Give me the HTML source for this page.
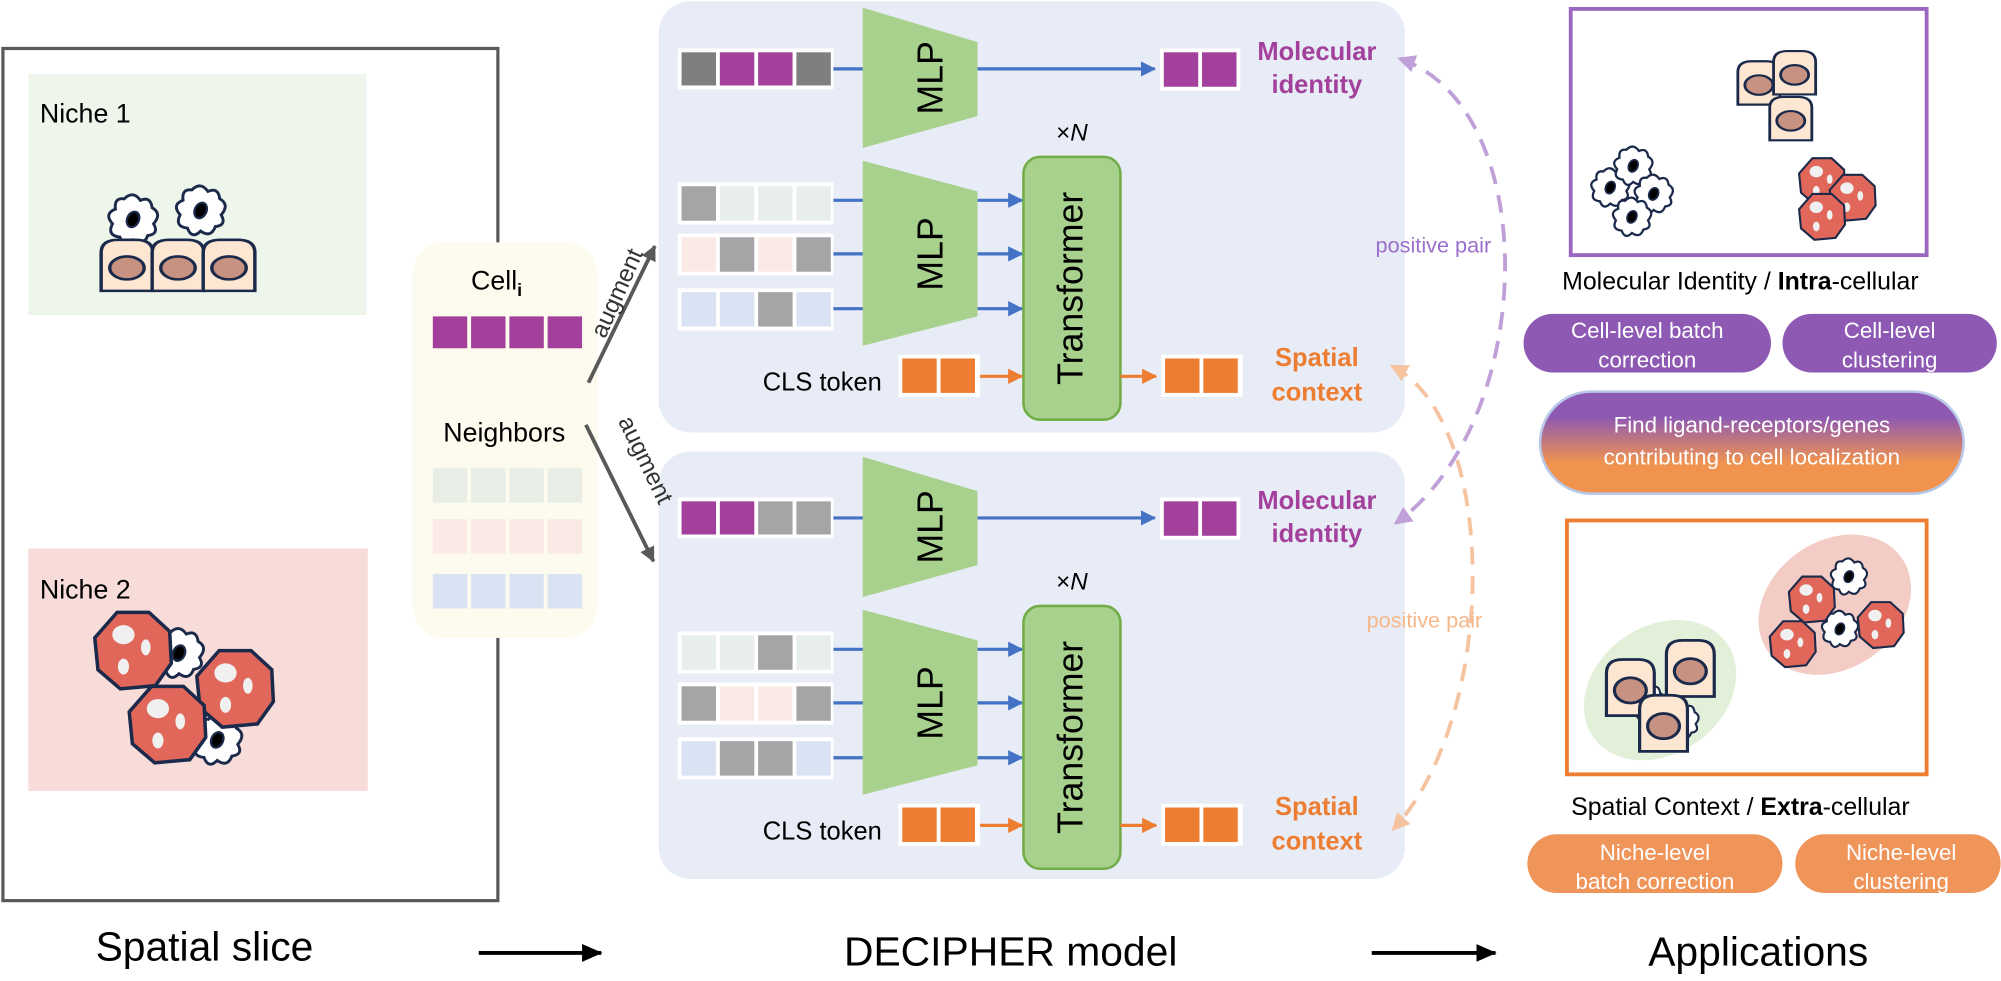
<!DOCTYPE html>
<html><head><meta charset="utf-8">
<style>
html,body{margin:0;padding:0;background:#fff;}
svg{display:block;font-family:"Liberation Sans",Arial,sans-serif;}
</style></head>
<body>
<svg width="2001" height="981" viewBox="0 0 1568 769" xmlns="http://www.w3.org/2000/svg">
<defs>
 <g id="epi">
  <path d="M0,40 L0,10 Q0,0 10,0 L20,0 Q30,0 30,10 L30,40 Z" fill="#fde6d2" stroke="#1b2a4a" stroke-width="2"/>
  <ellipse cx="15" cy="22" rx="10" ry="9" fill="#c79282" stroke="#1b2a4a" stroke-width="2"/>
 </g>
 <g id="imm">
  <path d="M-6,-14 Q0,-20 5,-13 Q12,-16 13,-8 Q20,-4 14,3 Q18,10 10,11 Q7,19 0,14 Q-6,20 -9,12 Q-18,11 -14,3 Q-20,-4 -12,-7 Q-13,-15 -6,-14 Z" fill="#fff" stroke="#1b2a4a" stroke-width="2"/>
  <ellipse cx="0" cy="0" rx="4" ry="5.5" fill="#000" stroke="#1b2a4a" stroke-width="1.5" transform="rotate(25)"/>
 </g>
 <g id="red">
  <polygon points="-10,-24 10,-24 23,-12 24,8 14,22 -8,24 -22,12 -24,-8" fill="#e0675a" stroke="#1b2a4a" stroke-width="2.2"/>
  <ellipse cx="-6" cy="-10" rx="7" ry="6" fill="#f0f0f0"/>
  <ellipse cx="8" cy="-2" rx="3" ry="5" fill="#f0f0f0"/>
  <ellipse cx="-6" cy="10" rx="3.5" ry="5" fill="#f0f0f0"/>
 </g>
 <marker id="abB" markerWidth="12" markerHeight="12" refX="11" refY="6" orient="auto" markerUnits="userSpaceOnUse"><path d="M0,0 L12,6 L0,12 Z" fill="#4472c4"/></marker>
 <marker id="ao" markerWidth="12" markerHeight="12" refX="11" refY="6" orient="auto" markerUnits="userSpaceOnUse"><path d="M0,0 L12,6 L0,12 Z" fill="#ed7d31"/></marker>
 <marker id="ag" markerWidth="12" markerHeight="12" refX="11" refY="6" orient="auto" markerUnits="userSpaceOnUse"><path d="M0,0 L12,6 L0,12 Z" fill="#595959"/></marker>
 <marker id="ak" markerWidth="16" markerHeight="14" refX="15" refY="7" orient="auto" markerUnits="userSpaceOnUse"><path d="M0,0 L16,7 L0,14 Z" fill="#000"/></marker>
 <marker id="ap" markerWidth="14" markerHeight="14" refX="12" refY="7" orient="auto-start-reverse" markerUnits="userSpaceOnUse"><path d="M0,0 L14,7 L0,14 Z" fill="#c0a0d8"/></marker>
 <marker id="apo" markerWidth="14" markerHeight="14" refX="12" refY="7" orient="auto-start-reverse" markerUnits="userSpaceOnUse"><path d="M0,0 L14,7 L0,14 Z" fill="#f5c3a0"/></marker>
 <linearGradient id="gr" x1="0" y1="0" x2="0" y2="1">
  <stop offset="0.25" stop-color="#8e59b3"/><stop offset="0.7" stop-color="#f0934f"/>
 </linearGradient>
</defs>

<!-- Spatial slice -->
<rect x="2" y="38" width="388" height="668" fill="#fff" stroke="#595959" stroke-width="2.5"/>
<rect x="22" y="58" width="265" height="189" fill="#eef6ec"/>
<text x="31" y="96" font-size="21">Niche 1</text>
<rect x="22" y="430" width="266" height="190" fill="#f7dcda"/>
<text x="31" y="469" font-size="21">Niche 2</text>
<use href="#imm" transform="translate(104,172) scale(1.15)"/>
<use href="#imm" transform="translate(157,165) scale(1.15)"/>
<use href="#epi" transform="translate(79,188) scale(1.35,1)"/>
<use href="#epi" transform="translate(119,188) scale(1.35,1)"/>
<use href="#epi" transform="translate(159,188) scale(1.35,1)"/>
<use href="#imm" transform="translate(140,512) scale(1.15)"/>
<use href="#imm" transform="translate(170,580) scale(1.15)"/>
<use href="#red" transform="translate(104,510) scale(1.25)"/>
<use href="#red" transform="translate(184,540) scale(1.25)"/>
<use href="#red" transform="translate(131,568) scale(1.25)"/>

<!-- Cell / neighbors panel -->
<rect x="323" y="190" width="145" height="310" rx="25" fill="#fdfbee"/>
<text x="389" y="227" font-size="21" text-anchor="middle">Cell<tspan font-size="14" dy="5" font-weight="bold">i</tspan></text>
<g fill="#a3409b">
<rect x="339" y="248" width="27" height="25"/><rect x="369" y="248" width="27" height="25"/><rect x="399" y="248" width="27" height="25"/><rect x="429" y="248" width="27" height="25"/></g>
<text x="395" y="346" font-size="21" text-anchor="middle">Neighbors</text>
<g fill="#e8eee6"><rect x="339" y="367" width="27" height="27"/><rect x="369" y="367" width="27" height="27"/><rect x="399" y="367" width="27" height="27"/><rect x="429" y="367" width="27" height="27"/></g>
<g fill="#fbe9e6"><rect x="339" y="407" width="27" height="27"/><rect x="369" y="407" width="27" height="27"/><rect x="399" y="407" width="27" height="27"/><rect x="429" y="407" width="27" height="27"/></g>
<g fill="#dae3f3"><rect x="339" y="450" width="27" height="27"/><rect x="369" y="450" width="27" height="27"/><rect x="399" y="450" width="27" height="27"/><rect x="429" y="450" width="27" height="27"/></g>

<!-- model panels -->
<rect x="516" y="1" width="585" height="338" rx="25" fill="#e8ecf7"/>
<rect x="516" y="354" width="585" height="335" rx="25" fill="#e8ecf7"/>

<!-- augment arrows -->
<line x1="461" y1="300" x2="513" y2="193" stroke="#595959" stroke-width="3" marker-end="url(#ag)"/>
<text font-size="19" fill="#333" transform="translate(474,266) rotate(-66)">augment</text>
<line x1="459" y1="333" x2="512" y2="440" stroke="#595959" stroke-width="3" marker-end="url(#ag)"/>
<text font-size="19" fill="#333" transform="translate(484,330) rotate(64)">augment</text>

<!-- top panel content -->
<g>
 <rect x="531" y="38" width="122" height="32" fill="#fff"/>
 <rect x="534" y="41" width="27" height="26" fill="#7f7f7f"/><rect x="564" y="41" width="27" height="26" fill="#a3409b"/><rect x="594" y="41" width="27" height="26" fill="#a3409b"/><rect x="624" y="41" width="27" height="26" fill="#7f7f7f"/>
 <line x1="653" y1="54" x2="677" y2="54" stroke="#4472c4" stroke-width="2.5"/>
 <polygon points="676,6 766,33 766,91 676,116" fill="#a9d18e"/>
 <text font-size="28" transform="translate(731,61) rotate(-90)" text-anchor="middle" dominant-baseline="middle">MLP</text>
 <line x1="766" y1="54" x2="905" y2="54" stroke="#4472c4" stroke-width="2.5" marker-end="url(#abB)"/>
 <rect x="909" y="38" width="63" height="33" fill="#fff"/>
 <rect x="912" y="41" width="27" height="27" fill="#a3409b"/><rect x="942" y="41" width="27" height="27" fill="#a3409b"/>
 <text x="1032" y="47" font-size="20" font-weight="bold" fill="#a3409b" text-anchor="middle">Molecular</text>
 <text x="1032" y="73" font-size="20" font-weight="bold" fill="#a3409b" text-anchor="middle">identity</text>
 <text x="840" y="110" font-size="19" text-anchor="middle">×<tspan font-style="italic">N</tspan></text>
 <rect x="531" y="143" width="122" height="33" fill="#fff"/>
 <rect x="534" y="146" width="27" height="27" fill="#a5a5a7"/><rect x="564" y="146" width="27" height="27" fill="#e8eee9"/><rect x="594" y="146" width="27" height="27" fill="#e8eee9"/><rect x="624" y="146" width="27" height="27" fill="#e8eee9"/>
 <rect x="531" y="183" width="122" height="33" fill="#fff"/>
 <rect x="534" y="186" width="27" height="27" fill="#fbe9e6"/><rect x="564" y="186" width="27" height="27" fill="#a5a5a7"/><rect x="594" y="186" width="27" height="27" fill="#fbe9e6"/><rect x="624" y="186" width="27" height="27" fill="#a5a5a7"/>
 <rect x="531" y="226" width="122" height="33" fill="#fff"/>
 <rect x="534" y="229" width="27" height="27" fill="#dae3f3"/><rect x="564" y="229" width="27" height="27" fill="#dae3f3"/><rect x="594" y="229" width="27" height="27" fill="#a5a5a7"/><rect x="624" y="229" width="27" height="27" fill="#dae3f3"/>
 <g stroke="#4472c4" stroke-width="2.5">
  <line x1="653" y1="157" x2="677" y2="157"/><line x1="653" y1="199" x2="677" y2="199"/><line x1="653" y1="242" x2="677" y2="242"/>
  <line x1="766" y1="157" x2="801" y2="157" marker-end="url(#abB)"/><line x1="766" y1="199" x2="801" y2="199" marker-end="url(#abB)"/><line x1="766" y1="242" x2="801" y2="242" marker-end="url(#abB)"/>
 </g>
 <polygon points="676,126 766,150 766,248 676,271" fill="#a9d18e"/>
 <text font-size="28" transform="translate(731,199) rotate(-90)" text-anchor="middle" dominant-baseline="middle">MLP</text>
 <rect x="802" y="123" width="76" height="206" rx="13" fill="#a9d18e" stroke="#70ad47" stroke-width="2"/>
 <text font-size="28" transform="translate(841,226) rotate(-90)" text-anchor="middle" dominant-baseline="middle">Transformer</text>
 <text x="691" y="306" font-size="20" text-anchor="end">CLS token</text>
 <rect x="704" y="278" width="64" height="33" fill="#fff"/>
 <rect x="707" y="281" width="27" height="27" fill="#ed7d31"/><rect x="737" y="281" width="27" height="27" fill="#ed7d31"/>
 <line x1="768" y1="295" x2="801" y2="295" stroke="#ed7d31" stroke-width="2.5" marker-end="url(#ao)"/>
 <line x1="878" y1="295" x2="906" y2="295" stroke="#ed7d31" stroke-width="2.5" marker-end="url(#ao)"/>
 <rect x="910" y="278" width="64" height="33" fill="#fff"/>
 <rect x="913" y="281" width="27" height="27" fill="#ed7d31"/><rect x="943" y="281" width="27" height="27" fill="#ed7d31"/>
 <text x="1032" y="287" font-size="20" font-weight="bold" fill="#ed7d31" text-anchor="middle">Spatial</text>
 <text x="1032" y="314" font-size="20" font-weight="bold" fill="#ed7d31" text-anchor="middle">context</text>
</g>

<!-- bottom panel content -->
<g transform="translate(0,352)">
 <rect x="531" y="38" width="122" height="32" fill="#fff"/>
 <rect x="534" y="41" width="27" height="26" fill="#a3409b"/><rect x="564" y="41" width="27" height="26" fill="#a3409b"/><rect x="594" y="41" width="27" height="26" fill="#a5a5a7"/><rect x="624" y="41" width="27" height="26" fill="#a5a5a7"/>
 <line x1="653" y1="54" x2="677" y2="54" stroke="#4472c4" stroke-width="2.5"/>
 <polygon points="676,6 766,33 766,91 676,116" fill="#a9d18e"/>
 <text font-size="28" transform="translate(731,61) rotate(-90)" text-anchor="middle" dominant-baseline="middle">MLP</text>
 <line x1="766" y1="54" x2="905" y2="54" stroke="#4472c4" stroke-width="2.5" marker-end="url(#abB)"/>
 <rect x="909" y="38" width="63" height="33" fill="#fff"/>
 <rect x="912" y="41" width="27" height="27" fill="#a3409b"/><rect x="942" y="41" width="27" height="27" fill="#a3409b"/>
 <text x="1032" y="47" font-size="20" font-weight="bold" fill="#a3409b" text-anchor="middle">Molecular</text>
 <text x="1032" y="73" font-size="20" font-weight="bold" fill="#a3409b" text-anchor="middle">identity</text>
 <text x="840" y="110" font-size="19" text-anchor="middle">×<tspan font-style="italic">N</tspan></text>
 <rect x="531" y="143" width="122" height="33" fill="#fff"/>
 <rect x="534" y="146" width="27" height="27" fill="#e8eee9"/><rect x="564" y="146" width="27" height="27" fill="#e8eee9"/><rect x="594" y="146" width="27" height="27" fill="#a5a5a7"/><rect x="624" y="146" width="27" height="27" fill="#e8eee9"/>
 <rect x="531" y="183" width="122" height="33" fill="#fff"/>
 <rect x="534" y="186" width="27" height="27" fill="#a5a5a7"/><rect x="564" y="186" width="27" height="27" fill="#fbe9e6"/><rect x="594" y="186" width="27" height="27" fill="#fbe9e6"/><rect x="624" y="186" width="27" height="27" fill="#a5a5a7"/>
 <rect x="531" y="226" width="122" height="33" fill="#fff"/>
 <rect x="534" y="229" width="27" height="27" fill="#dae3f3"/><rect x="564" y="229" width="27" height="27" fill="#a5a5a7"/><rect x="594" y="229" width="27" height="27" fill="#a5a5a7"/><rect x="624" y="229" width="27" height="27" fill="#dae3f3"/>
 <g stroke="#4472c4" stroke-width="2.5">
  <line x1="653" y1="157" x2="677" y2="157"/><line x1="653" y1="199" x2="677" y2="199"/><line x1="653" y1="242" x2="677" y2="242"/>
  <line x1="766" y1="157" x2="801" y2="157" marker-end="url(#abB)"/><line x1="766" y1="199" x2="801" y2="199" marker-end="url(#abB)"/><line x1="766" y1="242" x2="801" y2="242" marker-end="url(#abB)"/>
 </g>
 <polygon points="676,126 766,150 766,248 676,271" fill="#a9d18e"/>
 <text font-size="28" transform="translate(731,199) rotate(-90)" text-anchor="middle" dominant-baseline="middle">MLP</text>
 <rect x="802" y="123" width="76" height="206" rx="13" fill="#a9d18e" stroke="#70ad47" stroke-width="2"/>
 <text font-size="28" transform="translate(841,226) rotate(-90)" text-anchor="middle" dominant-baseline="middle">Transformer</text>
 <text x="691" y="306" font-size="20" text-anchor="end">CLS token</text>
 <rect x="704" y="278" width="64" height="33" fill="#fff"/>
 <rect x="707" y="281" width="27" height="27" fill="#ed7d31"/><rect x="737" y="281" width="27" height="27" fill="#ed7d31"/>
 <line x1="768" y1="295" x2="801" y2="295" stroke="#ed7d31" stroke-width="2.5" marker-end="url(#ao)"/>
 <line x1="878" y1="295" x2="906" y2="295" stroke="#ed7d31" stroke-width="2.5" marker-end="url(#ao)"/>
 <rect x="910" y="278" width="64" height="33" fill="#fff"/>
 <rect x="913" y="281" width="27" height="27" fill="#ed7d31"/><rect x="943" y="281" width="27" height="27" fill="#ed7d31"/>
 <text x="1032" y="287" font-size="20" font-weight="bold" fill="#ed7d31" text-anchor="middle">Spatial</text>
 <text x="1032" y="314" font-size="20" font-weight="bold" fill="#ed7d31" text-anchor="middle">context</text>
</g>

<!-- positive pair curves -->
<path d="M1097,46 C1210,85 1205,330 1094,410" fill="none" stroke="#c0a0d8" stroke-width="3" stroke-dasharray="14,9" marker-start="url(#ap)" marker-end="url(#ap)"/>
<path d="M1091,287 C1175,330 1175,560 1092,650" fill="none" stroke="#f5c3a0" stroke-width="3" stroke-dasharray="14,9" marker-start="url(#apo)" marker-end="url(#apo)"/>
<text x="1078" y="198" font-size="17" fill="#9b6fcc">positive pair</text>
<text x="1071" y="492" font-size="17" fill="#f5b88a">positive pair</text>

<!-- Applications -->
<rect x="1231" y="7" width="279" height="193" fill="#fff" stroke="#9a66c0" stroke-width="3"/>
<use href="#epi" transform="translate(1362,48) scale(1.1,0.85)"/>
<use href="#epi" transform="translate(1390,40) scale(1.1,0.85)"/>
<use href="#epi" transform="translate(1387,76) scale(1.1,0.85)"/>
<use href="#imm" transform="translate(1262,147) scale(0.9)"/>
<use href="#imm" transform="translate(1280,130) scale(0.9)"/>
<use href="#imm" transform="translate(1296,152) scale(0.9)"/>
<use href="#imm" transform="translate(1279,170) scale(0.9)"/>
<use href="#red" transform="translate(1428,142) scale(0.75)"/>
<use href="#red" transform="translate(1452,155) scale(0.75)"/>
<use href="#red" transform="translate(1428,170) scale(0.75)"/>
<text x="1364" y="227" font-size="19.5" text-anchor="middle">Molecular Identity / <tspan font-weight="bold">Intra</tspan>-cellular</text>
<rect x="1194" y="246" width="194" height="46" rx="23" fill="#8e59b3"/>
<text x="1291" y="265" font-size="17.5" fill="#fff" text-anchor="middle">Cell-level batch</text>
<text x="1291" y="288" font-size="17.5" fill="#fff" text-anchor="middle">correction</text>
<rect x="1397" y="246" width="168" height="46" rx="23" fill="#8e59b3"/>
<text x="1481" y="265" font-size="17.5" fill="#fff" text-anchor="middle">Cell-level</text>
<text x="1481" y="288" font-size="17.5" fill="#fff" text-anchor="middle">clustering</text>
<rect x="1207" y="307" width="332" height="80" rx="40" fill="url(#gr)" stroke="#b8c8e8" stroke-width="2"/>
<text x="1373" y="339" font-size="17.5" fill="#fff" text-anchor="middle">Find ligand-receptors/genes</text>
<text x="1373" y="364" font-size="17.5" fill="#fff" text-anchor="middle">contributing to cell localization</text>

<rect x="1228" y="408" width="282" height="199" fill="#fff" stroke="#ed7d31" stroke-width="3"/>
<ellipse cx="1301" cy="541" rx="64" ry="50" fill="#e2efd9" transform="rotate(-35 1301 541)"/>
<ellipse cx="1438" cy="474" rx="64" ry="50" fill="#f4ccc6" transform="rotate(-35 1438 474)"/>
<use href="#imm" transform="translate(1290,550) scale(0.85)"/>
<use href="#imm" transform="translate(1317,565) scale(0.85)"/>
<use href="#epi" transform="translate(1259,517) scale(1.25,1.1)"/>
<use href="#epi" transform="translate(1306,502) scale(1.25,1.1)"/>
<use href="#epi" transform="translate(1285,545) scale(1.25,1.1)"/>
<use href="#imm" transform="translate(1449,452) scale(0.85)"/>
<use href="#imm" transform="translate(1442,493) scale(0.85)"/>
<use href="#red" transform="translate(1420,470) scale(0.75)"/>
<use href="#red" transform="translate(1474,490) scale(0.75)"/>
<use href="#red" transform="translate(1405,505) scale(0.75)"/>
<text x="1364" y="639" font-size="19.5" text-anchor="middle">Spatial Context / <tspan font-weight="bold">Extra</tspan>-cellular</text>
<rect x="1197" y="654" width="200" height="46" rx="23" fill="#f0955a"/>
<text x="1297" y="674" font-size="17.5" fill="#fff" text-anchor="middle">Niche-level</text>
<text x="1297" y="697" font-size="17.5" fill="#fff" text-anchor="middle">batch correction</text>
<rect x="1407" y="654" width="161" height="46" rx="23" fill="#f0955a"/>
<text x="1490" y="674" font-size="17.5" fill="#fff" text-anchor="middle">Niche-level</text>
<text x="1490" y="697" font-size="17.5" fill="#fff" text-anchor="middle">clustering</text>

<!-- bottom labels -->
<text x="160" y="753" font-size="32" text-anchor="middle">Spatial slice</text>
<line x1="375" y1="747" x2="471" y2="747" stroke="#000" stroke-width="3" marker-end="url(#ak)"/>
<text x="792" y="757" font-size="32" text-anchor="middle">DECIPHER model</text>
<line x1="1075" y1="747" x2="1172" y2="747" stroke="#000" stroke-width="3" marker-end="url(#ak)"/>
<text x="1378" y="757" font-size="32" text-anchor="middle">Applications</text>
</svg>
</body></html>
